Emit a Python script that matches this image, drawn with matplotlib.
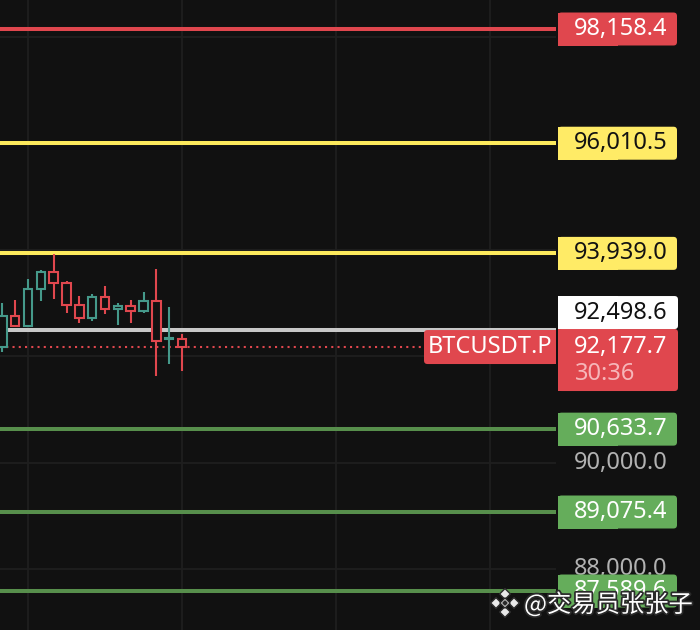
import matplotlib
matplotlib.use('Agg')
import matplotlib.pyplot as plt
import matplotlib.patheffects as pe
import numpy as np
from matplotlib.patches import FancyBboxPatch, Rectangle, Polygon

plt.rcParams['font.family'] = ['Noto Sans', 'Noto Sans CJK SC', 'DejaVu Sans']

BG = '#111111'
RED = '#e0474e'
TEAL = '#45998a'

# candles (hollow style)
opens = [92184, 92761, 92573, 93278, 93583, 93376, 92962, 92718, 93113, 92890, 92949, 92861, 93049, 92320, 92329]
highs = [93006, 93062, 93457, 93626, 93927, 93414, 93137, 93175, 93325, 93006, 93062, 93212, 93645, 92930, 92423]
lows = [92090, 92549, 92573, 93049, 93086, 92823, 92635, 92673, 92804, 92598, 92635, 92823, 91633, 91858, 91727]
closes = [92761, 92573, 93278, 93583, 93376, 92962, 92718, 93113, 92887, 92950, 92861, 93049, 92285, 92345, 92177.7]

# horizontal levels
level_prices = [98158.4, 96010.5, 93939.0, 90633.7, 89075.4, 87589.6]
level_labels = ['98,158.4', '96,010.5', '93,939.0', '90,633.7', '89,075.4', '87,589.6']
level_line_colors = [RED, '#fdea5c', '#fdea5c', '#578f4c', '#578f4c', '#578f4c']
level_box_colors = [RED, '#ffeb66', '#ffeb66', '#65ad5b', '#65ad5b', '#65ad5b']
level_text_colors = ['white', '#121212', '#121212', 'white', 'white', 'white']

ref_price = 92498.6
ref_label = '92,498.6'
last_price = 92177.7
last_label = '92,177.7'
symbol = 'BTCUSDT.P'
countdown = '30:36'

grid_prices = [88000, 90000, 92000, 94000, 96000, 98000]
grid_labels = ['88,000.0', '90,000.0', '92,000.0', '94,000.0', '96,000.0', '98,000.0']
grid_bars = [2, 14, 26, 38]

watermark = '@交易员张张子'

y_lo, y_hi = 86856.4, 98703.8
x_lo, x_hi = -0.18, 43.12

fig = plt.figure(figsize=(7, 6.3), dpi=100)
fig.patch.set_facecolor(BG)

ax = fig.add_axes([0, 0, 556 / 700, 1])
ax.set_facecolor(BG)
ax.set_xlim(x_lo, x_hi)
ax.set_ylim(y_lo, y_hi)
for s in ax.spines.values():
    s.set_visible(False)
ax.set_xticks(grid_bars)
ax.set_yticks(grid_prices)
ax.tick_params(length=0, labelbottom=False, labelleft=False)
ax.grid(True, color='#1f1f1f', lw=1.3)
ax.set_axisbelow(True)

for p, c in zip(level_prices, level_line_colors):
    ax.axhline(p, color=c, lw=2.9, zorder=2)
ax.axhline(ref_price, color='#c8c8c8', lw=2.9, zorder=2)
ax.axhline(last_price, xmin=0, xmax=423 / 556, color=RED, lw=1.5,
           ls=(0, (1, 2)), zorder=2)

o = np.array(opens)
c = np.array(closes)
idx = np.arange(len(o))
cols = np.where(c >= o, TEAL, RED)
ax.vlines(idx, lows, highs, colors=cols, lw=1.5, zorder=4)
ax.bar(idx, np.abs(c - o), bottom=np.minimum(o, c), width=0.66, color=BG,
       edgecolor=cols, linewidth=1.5, zorder=5)

# price scale overlay: x in pixels, y in price
ax2 = fig.add_axes([0, 0, 1, 1])
ax2.set_xlim(0, 700)
ax2.set_ylim(y_lo, y_hi)
ax2.axis('off')
ax2.patch.set_alpha(0)
ppu = (y_hi - y_lo) / 630


def label_box(x0, x1, ybot, ytop, color, rounded='right'):
    ax2.add_patch(FancyBboxPatch((x0, ybot), x1 - x0, ytop - ybot,
                                 boxstyle='round,pad=0,rounding_size=3.5',
                                 mutation_aspect=ppu, fc=color, ec='none', zorder=3))
    w = (x1 - x0) / 2
    sx = x0 if rounded == 'right' else x0 + w
    ax2.add_patch(Rectangle((sx, ybot), w, ytop - ybot, fc=color, ec='none', zorder=3))


FS = 17
# scale labels that are not hidden behind a level/price label
covered = level_prices + [last_price]
for p, l in zip(grid_prices, grid_labels):
    if min(abs(p - q) for q in covered) / ppu < 20:
        continue
    ax2.text(621, p, l, color='#b2b2b2', ha='center', va='center', fontsize=FS, zorder=1)

for p, l, bc, tc in zip(level_prices, level_labels, level_box_colors, level_text_colors):
    label_box(558, 677, p - 16.5 * ppu, p + 16.5 * ppu, bc)
    ax2.text(621, p, l, color=tc, ha='center', va='center', fontsize=FS, zorder=4)

# current price label + countdown, ref label stacked above it
red_top = last_price + 18 * ppu
red_bot = last_price - 44 * ppu
label_box(558, 678, red_bot, red_top, RED)
ax2.text(621, last_price, last_label, color='white', ha='center', va='center', fontsize=FS, zorder=4)
ax2.text(575, last_price - 26.5 * ppu, countdown, color='#f6b6b9', ha='left', va='center',
         fontsize=FS, zorder=4)
label_box(558, 678, red_top, red_top + 33 * ppu, 'white')
ax2.text(621, red_top + 16.5 * ppu, ref_label, color='#111111', ha='center', va='center',
         fontsize=FS, zorder=4)

label_box(424, 556, last_price - 17 * ppu, last_price + 17 * ppu, RED, rounded='left')
ax2.text(490, last_price, symbol, color='white', ha='center', va='center', fontsize=FS, zorder=4)

# watermark
fig.text(524 / 700, 1 - 605 / 630, watermark, color='white', fontsize=17.5, ha='left', va='center',
         family=['Noto Sans CJK SC', 'DejaVu Sans'],
         path_effects=[pe.withStroke(linewidth=2.5, foreground='#2a2a2a')], zorder=10)

lax = fig.add_axes([490 / 700, 1 - 618 / 630, 30 / 700, 30 / 630])
lax.set_xlim(-1, 1)
lax.set_ylim(-1, 1)
lax.axis('off')
lax.patch.set_alpha(0)


def diamond(cx, cy, r, fc):
    return Polygon([(cx, cy + r), (cx + r, cy), (cx, cy - r), (cx - r, cy)], closed=True,
                   fc=fc, ec='#2a2a2a', lw=1.0)


for cx, cy in [(0, 0.6), (0.6, 0), (-0.6, 0), (0, -0.6)]:
    lax.add_patch(diamond(cx, cy, 0.36, '#e8e8e8'))
lax.add_patch(diamond(0, 0, 0.34, '#e8e8e8'))
lax.add_patch(diamond(0, 0, 0.14, '#2a2a2a'))

fig.savefig('out.png', dpi=100, facecolor=BG)
